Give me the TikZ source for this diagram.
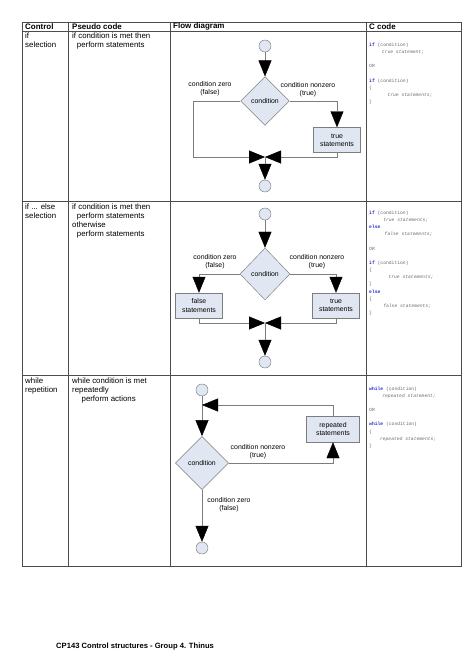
\documentclass[tikz,border=0pt]{standalone}
\usepackage{fontspec}
\setmainfont{Liberation Sans}
\setmonofont{Liberation Mono}
\usetikzlibrary{arrows.meta,positioning,shapes.geometric}

\definecolor{flowfill}{RGB}{225,231,242}
\definecolor{flowline}{RGB}{125,125,125}
\definecolor{kwblue}{RGB}{40,40,200}
\definecolor{codegray}{RGB}{105,105,105}
\newcommand{\kw}[1]{\textcolor{kwblue}{\textbf{#1}}}
\newcommand{\stmt}[1]{\textit{#1}}

\begin{document}
\begin{tikzpicture}[
    x=0.3mm, y=-0.3mm,
    every node/.style={align=center},
    tablerule/.style={draw=black!70, line width=0.4pt},
    headcell/.style={anchor=west, inner sep=0pt, font=\fontsize{6.8}{8}\selectfont\bfseries},
    cell/.style={anchor=north west, align=left, inner sep=0pt, font=\fontsize{6.7}{7.6}\selectfont},
    code/.style={anchor=north west, align=left, inner sep=0pt, text=codegray,
        font=\fontsize{4}{6.12}\selectfont\ttfamily},
    terminal/.style={circle, draw=flowline, fill=flowfill, minimum size=3.6mm, inner sep=0pt},
    box/.style={
        rectangle,
        draw=flowline,
        fill=flowfill,
        minimum width=14.1mm,
        minimum height=7.5mm,
        inner sep=0pt,
        font=\fontsize{5.9}{7}\selectfont
    },
    decision/.style={
        diamond,
        draw=flowline,
        fill=flowfill,
        minimum width=14.6mm,
        minimum height=14.6mm,
        inner sep=0pt,
        font=\fontsize{5.9}{7}\selectfont
    },
    flowlabel/.style={inner sep=0pt, font=\fontsize{5.9}{7}\selectfont},
    flow/.style={draw=flowline, line width=0.4pt, -{Triangle[length=4.8mm, width=3.9mm, black]}}
]
\useasboundingbox (0,0) rectangle (474,670);

% table
\draw[tablerule] (22,22) rectangle (461,566);
\draw[tablerule] (22,31) -- (461,31);
\draw[tablerule] (22,201) -- (461,201);
\draw[tablerule] (22,375) -- (461,375);
\foreach \x in {68,170,366}
    \draw[tablerule] (\x,22) -- (\x,566);

\node[headcell] (hcontrol) at (25,26.5) {Control};
\node[headcell] (hpseudo) at (72,26.5) {Pseudo code};
\node[headcell] (hflow) at (173,26.5) {Flow diagram};
\node[headcell] (hcode) at (369,26.5) {C code};

% if selection
\node[cell] (ctrl1) at (25,32.5) {if\\selection};
\node[cell] (pseudo1) at (72,32.5) {if condition is met then\\\hspace*{0.6em}perform statements};

\node[terminal] (start1) at (265,46) {};
\node[decision] (cond1) at (265,101) {condition};
\node[box] (true1) at (337,140) {true\\statements};
\coordinate (bend1) at (193,157);
\coordinate (merge1) at (265,157);
\node[terminal] (end1) at (265,186) {};
\node[flowlabel] (zero1) at (210,89) {condition zero\\(false)};
\node[flowlabel] (nonzero1) at (308,90) {condition nonzero\\(true)};

\draw[flow] (start1) -- (cond1);
\draw[flow] (cond1.west) -| (bend1) -- (merge1);
\draw[flow] (cond1.east) -| (true1.north);
\draw[flow] (true1.south) |- (merge1);
\draw[flow] (merge1) -- (end1);

\node[code] (ccode1) at (369,42.5) {\kw{if} (condition)\\
\hspace*{2.7em}\stmt{true statement;}\\
\mbox{}\\
OR\\
\mbox{}\\
\kw{if} (condition)\\
\{\\
\hspace*{3.9em}\stmt{true statements;}\\
\}};

% if ... else selection
\node[cell] (ctrl2) at (25,203.5) {if ... else\\selection};
\node[cell] (pseudo2) at (72,203.5) {if condition is met then\\\hspace*{0.6em}perform statements\\otherwise\\\hspace*{0.6em}perform statements};

\node[terminal] (start2) at (265,214) {};
\node[decision, minimum width=15mm, minimum height=15.6mm] (cond2) at (265,274) {condition};
\node[box] (false2) at (199,305.5) {false\\statements};
\node[box] (true2) at (336,305.5) {true\\statements};
\coordinate (merge2) at (265,323);
\node[terminal] (end2) at (265,362) {};
\node[flowlabel] (zero2) at (215,262) {condition zero\\(false)};
\node[flowlabel] (nonzero2) at (317,262) {condition nonzero\\(true)};

\draw[flow] (start2) -- (cond2);
\draw[flow] (cond2.west) -| (false2.north);
\draw[flow] (cond2.east) -| (true2.north);
\draw[flow] (false2.south) |- (merge2);
\draw[flow] (true2.south) |- (merge2);
\draw[flow] (merge2) -- (end2);

\node[code] (ccode2) at (369,210.5) {\kw{if} (condition)\\
\hspace*{3em}\stmt{true statements;}\\
\kw{else}\\
\hspace*{3.3em}\stmt{false statements;}\\
\mbox{}\\
OR\\
\mbox{}\\
\kw{if} (condition)\\
\{\\
\hspace*{4.1em}\stmt{true statements;}\\
\}\\
\kw{else}\\
\{\\
\hspace*{3em}\stmt{false statements;}\\
\}};

% while repetition
\node[cell] (ctrl3) at (25,377.5) {while\\repetition};
\node[cell] (pseudo3) at (72,377.5) {while condition is met\\repeatedly\\\hspace*{1.2em}perform actions};

\node[terminal] (start3) at (202,390) {};
\coordinate (join3) at (202,405);
\node[decision, minimum width=16mm, minimum height=16mm] (cond3) at (202,463) {condition};
\node[box, minimum width=15.9mm, minimum height=7.8mm] (rep3) at (333,429) {repeated\\statements};
\node[terminal] (end3) at (202,548) {};
\node[flowlabel] (nonzero3) at (258,452) {condition nonzero\\(true)};
\node[flowlabel] (zero3) at (229,505) {condition zero\\(false)};

\draw[flow] (start3) -- (cond3);
\draw[flow] (rep3.north) |- (join3);
\draw[flow] (cond3.east) -| (rep3.south);
\draw[flow] (cond3) -- (end3);

\node[code] (ccode3) at (369,386.5) {\kw{while} (condition)\\
\hspace*{2.8em}\stmt{repeated statement;}\\
\mbox{}\\
OR\\
\mbox{}\\
\kw{while} (condition)\\
\{\\
\hspace*{2.3em}\stmt{repeated statements;}\\
\}};

% footer
\node[anchor=west, inner sep=0pt, font=\fontsize{6.5}{8}\selectfont\bfseries] (footer) at (56,647)
    {CP143 Control structures - Group 4. Thinus};
\end{tikzpicture}
\end{document}
